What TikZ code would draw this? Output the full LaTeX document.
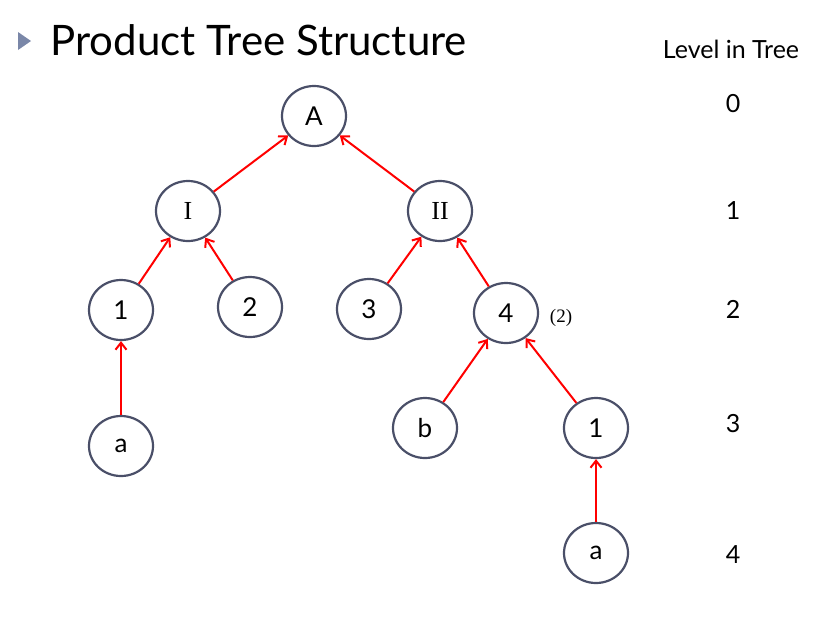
\documentclass[tikz,border=0pt]{standalone}
\usepackage{fontspec}
\setmainfont{Lato}
\usetikzlibrary{shapes.geometric,arrows.meta}
\definecolor{bd}{HTML}{4A4F68}
\definecolor{tri}{HTML}{7A87A8}
\begin{document}
\begin{tikzpicture}[x=1pt,y=-1pt,
  nd/.style={ellipse,draw=bd,line width=2.2pt,minimum width=64pt,minimum height=60pt,inner sep=0pt,font=\fontsize{26}{28}\selectfont},
  ed/.style={draw=red,line width=2pt,-{Straight Barb[length=7pt,width=11pt]}},
  lv/.style={font=\fontsize{25}{28}\selectfont}]
\useasboundingbox (0,0) rectangle (833,622);
\fill[tri] (18,32) -- (31,41) -- (18,50) -- cycle;
\node[anchor=west,font=\fontsize{42}{44}\selectfont] (title) at (47,40) {Product Tree Structure};
\node[lv] (lt) at (731,49) {Level in Tree};
\node[lv] (l0) at (733,104) {0};
\node[lv] (l1) at (733,211) {1};
\node[lv] (l2) at (733,309) {2};
\node[lv] (l3) at (733,424) {3};
\node[lv] (l4) at (733,555) {4};
\node[nd] (A) at (314,116) {A};
\node[nd] (I) at (188,211) {\fontspec{Liberation Serif}I};
\node[nd] (II) at (440,211) {\fontspec{Liberation Serif}II};
\node[nd] (n1) at (121,310) {1};
\node[nd] (n2) at (250,307) {2};
\node[nd] (n3) at (369,309) {3};
\node[nd] (n4) at (506,313) {4};
\node[nd] (a) at (121,446) {a};
\node[nd] (b) at (425,428) {b};
\node[nd] (m1) at (596,428) {1};
\node[nd] (a2) at (596,553) {a};
\node[font=\fontsize{19}{21}\selectfont\fontspec{Liberation Serif}] (q) at (561,318) {(2)};
\draw[ed] (I) -- (A);
\draw[ed] (II) -- (A);
\draw[ed] (n1) -- (I);
\draw[ed] (n2) -- (I);
\draw[ed] (n3) -- (II);
\draw[ed] (n4) -- (II);
\draw[ed] (a) -- (n1);
\draw[ed] (b) -- (n4);
\draw[ed] (m1) -- (n4);
\draw[ed] (a2) -- (m1);
\end{tikzpicture}
\end{document}
